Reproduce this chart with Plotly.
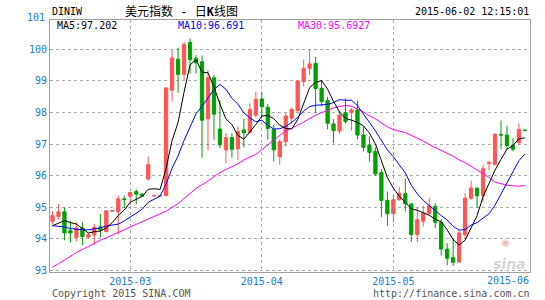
import plotly.graph_objects as go

# ---------------- data ----------------
dates = [
    "2015-02-11", "2015-02-12", "2015-02-13", "2015-02-16", "2015-02-17", "2015-02-18", "2015-02-19",
    "2015-02-20", "2015-02-23", "2015-02-24", "2015-02-25", "2015-02-26", "2015-02-27",
    "2015-03-02", "2015-03-03", "2015-03-04", "2015-03-05", "2015-03-06", "2015-03-09", "2015-03-10",
    "2015-03-11", "2015-03-12", "2015-03-13", "2015-03-16", "2015-03-17", "2015-03-18", "2015-03-19",
    "2015-03-20", "2015-03-23", "2015-03-24", "2015-03-25", "2015-03-26", "2015-03-27", "2015-03-30",
    "2015-03-31",
    "2015-04-01", "2015-04-02", "2015-04-03", "2015-04-06", "2015-04-07", "2015-04-08", "2015-04-09",
    "2015-04-10", "2015-04-13", "2015-04-14", "2015-04-15", "2015-04-16", "2015-04-17", "2015-04-20",
    "2015-04-21", "2015-04-22", "2015-04-23", "2015-04-24", "2015-04-27", "2015-04-28", "2015-04-29",
    "2015-04-30",
    "2015-05-01", "2015-05-04", "2015-05-05", "2015-05-06", "2015-05-07", "2015-05-08", "2015-05-11",
    "2015-05-12", "2015-05-13", "2015-05-14", "2015-05-15", "2015-05-18", "2015-05-19", "2015-05-20",
    "2015-05-21", "2015-05-22", "2015-05-25", "2015-05-26", "2015-05-27", "2015-05-28", "2015-05-29",
    "2015-06-01", "2015-06-02",
]

open_ = [
    94.56, 94.71, 94.86, 94.26, 94.05, 94.35, 94.06, 94.13, 94.38, 94.23, 94.88, 94.86, 95.27,
    95.35, 95.50, 95.42, 95.90, 95.36, 95.36, 95.37, 98.71, 99.69, 99.21, 100.22, 99.72, 99.61,
    97.80, 99.10, 97.48, 96.82, 97.21, 96.85, 97.45, 97.37, 97.92,
    98.43, 98.17, 97.47, 96.60, 97.08, 97.82, 98.06, 98.98, 99.40, 99.56, 98.77, 98.38, 97.64,
    97.42, 98.00, 98.00, 98.09, 97.29, 96.97, 96.77, 96.10, 95.22,
    94.80, 95.24, 95.43, 95.11, 94.14, 94.56, 94.80, 95.03, 94.53, 93.68, 93.41, 93.27, 94.13,
    95.29, 95.61, 95.37, 96.39, 96.35, 97.31, 97.29, 96.96,
    97.05, 97.45,
]
high = [
    94.87, 95.11, 95.00, 94.56, 94.53, 94.53, 94.19, 94.48, 94.79, 94.89, 94.90, 95.37, 95.37,
    95.50, 95.57, 95.45, 96.61, 95.38, 95.38, 98.80, 99.98, 100.05, 100.24, 100.35, 99.82, 99.81,
    99.35, 99.19, 98.40, 97.35, 97.35, 97.56, 97.80, 98.29, 98.66,
    98.66, 98.27, 97.61, 97.16, 97.98, 98.17, 99.01, 99.68, 100.00, 99.77, 99.03, 98.50, 97.79,
    98.06, 98.45, 98.14, 98.38, 97.55, 97.25, 96.90, 96.21, 95.50,
    95.40, 95.64, 95.92, 95.11, 95.00, 95.05, 95.30, 95.13, 94.63, 93.87, 94.00, 94.29, 95.45,
    95.84, 95.64, 96.35, 96.48, 97.35, 97.75, 97.58, 97.19,
    97.66, 97.45,
]
low = [
    94.45, 94.61, 93.96, 93.89, 93.93, 93.80, 94.01, 93.82, 94.05, 94.23, 94.88, 94.14, 94.98,
    95.08, 95.10, 95.33, 95.85, 95.36, 95.36, 95.37, 98.35, 98.63, 99.03, 99.24, 99.24, 96.57,
    96.80, 97.14, 96.87, 96.40, 96.57, 96.50, 96.90, 97.35, 97.85,
    97.85, 97.14, 96.45, 96.35, 96.92, 97.66, 98.03, 98.82, 99.19, 97.98, 98.19, 97.47, 97.03,
    97.33, 97.66, 97.43, 97.15, 96.77, 96.45, 96.00, 94.70, 94.42,
    94.53, 95.22, 94.87, 93.90, 93.90, 94.40, 94.77, 94.35, 93.47, 93.16, 93.14, 93.27, 93.99,
    95.24, 94.98, 95.16, 96.17, 96.35, 96.84, 96.84, 96.77,
    96.98, 97.43,
]
close = [
    94.74, 94.86, 94.19, 94.19, 94.35, 94.08, 94.14, 94.37, 94.29, 94.89, 94.90, 95.27, 95.25,
    95.47, 95.42, 95.35, 96.35, 95.37, 95.37, 98.78, 99.73, 99.21, 100.16, 99.68, 99.58, 97.76,
    99.10, 97.95, 96.98, 97.21, 96.84, 97.40, 97.36, 98.10, 98.42,
    98.19, 97.50, 96.82, 97.08, 97.89, 98.10, 99.00, 99.40, 99.54, 98.76, 98.35, 97.66, 97.43,
    97.92, 97.72, 98.08, 97.29, 96.90, 96.74, 96.06, 95.22, 94.80,
    95.24, 95.45, 95.11, 94.14, 94.61, 94.82, 95.05, 94.53, 93.68, 93.39, 93.26, 94.19, 95.29,
    95.61, 95.37, 96.22, 96.41, 97.31, 97.29, 96.96, 96.84,
    97.47, 97.43,
]

ma5 = [
    94.42, 94.50, 94.58, 94.52, 94.47, 94.33, 94.19, 94.23, 94.25, 94.35, 94.52, 94.74, 94.92,
    95.16, 95.26, 95.35, 95.57, 95.59, 95.57, 96.24, 97.12, 97.69, 98.65, 99.51, 99.67, 99.28,
    99.26, 98.81, 98.27, 97.80, 97.62, 97.28, 97.16, 97.38, 97.62,
    97.89, 97.91, 97.81, 97.60, 97.50, 97.48, 97.78, 98.29, 98.79, 98.96, 99.01, 98.74, 98.35,
    98.02, 97.82, 97.76, 97.69, 97.58, 97.35, 97.01, 96.44, 95.94,
    95.61, 95.35, 95.16, 94.95, 94.91, 94.83, 94.75, 94.63, 94.54, 94.29, 93.98, 93.81, 93.96,
    94.35, 94.74, 95.34, 95.78, 96.18, 96.52, 96.84, 96.96,
    97.17, 97.20,
]
ma10 = [
    94.42, 94.41, 94.38, 94.33, 94.30, 94.29, 94.29, 94.31, 94.35, 94.41, 94.43, 94.47, 94.57,
    94.70, 94.81, 94.94, 95.16, 95.26, 95.36, 95.75, 96.24, 96.63, 97.12, 97.54, 97.96, 98.20,
    98.47, 98.73, 98.89, 98.74, 98.45, 98.27, 97.99, 97.83, 97.71,
    97.76, 97.60, 97.48, 97.49, 97.56, 97.69, 97.85, 98.05, 98.19, 98.23, 98.24, 98.26, 98.32,
    98.41, 98.39, 98.39, 98.22, 97.97, 97.69, 97.42, 97.10, 96.82,
    96.60, 96.35, 96.09, 95.70, 95.43, 95.22, 95.05, 94.90, 94.74, 94.60, 94.40, 94.28, 94.30,
    94.44, 94.52, 94.66, 94.80, 95.07, 95.43, 95.79, 96.15,
    96.48, 96.69,
]
ma30 = [
    93.10, 93.22, 93.34, 93.46, 93.57, 93.67, 93.77, 93.87, 93.96, 94.04, 94.12, 94.19, 94.29,
    94.38, 94.46, 94.55, 94.62, 94.70, 94.80, 94.88, 95.00, 95.12, 95.28, 95.45, 95.60, 95.72,
    95.83, 95.97, 96.10, 96.20, 96.28, 96.38, 96.50, 96.58, 96.68,
    96.82, 96.98, 97.13, 97.28, 97.42, 97.50, 97.60, 97.70, 97.82, 97.92, 98.00, 98.06, 98.15,
    98.20, 98.23, 98.20, 98.12, 98.02, 97.90, 97.80, 97.67, 97.55,
    97.46, 97.42, 97.37, 97.28, 97.20, 97.10, 96.99, 96.90, 96.80, 96.72, 96.62, 96.50, 96.42,
    96.30, 96.18, 96.08, 95.95, 95.80, 95.74, 95.70, 95.68,
    95.67, 95.69,
]

month_ticks = ["2015-03-02", "2015-04-01", "2015-05-01"]
month_labels = ["2015-03", "2015-04", "2015-05"]
last_month_label = "2015-06"
y_ticks = [93, 94, 95, 96, 97, 98, 99, 100]
y_top_label = 101
ma_labels = ["MA5:97.202", "MA10:96.691", "MA30:95.6927"]

# ---------------- style ----------------
RED = "#ff5555"
GREEN = "#00a000"
BLUE_TXT = "#1a7ccc"
GRID = "#aaaaaa"
BORDER = "#a0a0a0"
MONO = "DejaVu Sans Mono, Liberation Mono, monospace"
Y_RANGE = [92.955, 100.93]

fig = go.Figure()
fig.add_trace(go.Candlestick(
    x=dates, open=open_, high=high, low=low, close=close,
    increasing=dict(line=dict(color=RED, width=1), fillcolor=RED),
    decreasing=dict(line=dict(color=GREEN, width=1), fillcolor=GREEN),
    whiskerwidth=0, showlegend=False, hoverinfo="skip",
))
fig.add_trace(go.Scatter(x=dates, y=ma30, mode="lines", line=dict(color="#ff00ff", width=1),
                         showlegend=False, hoverinfo="skip"))
fig.add_trace(go.Scatter(x=dates, y=ma10, mode="lines", line=dict(color="#0000ff", width=1),
                         showlegend=False, hoverinfo="skip"))
fig.add_trace(go.Scatter(x=dates, y=ma5, mode="lines", line=dict(color="#000000", width=1),
                         showlegend=False, hoverinfo="skip"))

fig.update_layout(
    width=545, height=300,
    margin=dict(l=50, r=15, t=20, b=28, pad=0),
    paper_bgcolor="white", plot_bgcolor="white",
    showlegend=False, boxgap=0.22,
    font=dict(family=MONO, size=10, color="#000"),
    xaxis=dict(
        type="category", range=[-0.42, 79.85], rangeslider=dict(visible=False),
        tickmode="array", tickvals=month_ticks, ticktext=month_labels,
        showgrid=True, gridcolor=GRID, griddash="dot", gridwidth=1,
        showline=True, mirror=True, linecolor=BORDER, linewidth=1,
        ticks="", tickfont=dict(family=MONO, size=10, color=BLUE_TXT),
        zeroline=False, fixedrange=True,
    ),
    yaxis=dict(
        range=Y_RANGE, tickmode="array", tickvals=y_ticks,
        ticktext=[str(v) for v in y_ticks],
        showgrid=True, gridcolor=GRID, griddash="dot", gridwidth=1,
        showline=True, mirror=True, linecolor=BORDER, linewidth=1,
        ticks="", tickfont=dict(family=MONO, size=10, color=BLUE_TXT),
        zeroline=False, fixedrange=True,
    ),
)

ann = []
# top y label (101) sits just above the plot box
y101 = (y_top_label - Y_RANGE[0]) / (Y_RANGE[1] - Y_RANGE[0])
ann.append(dict(xref="paper", yref="paper", x=0, y=y101, text=str(y_top_label),
                xanchor="right", yanchor="middle", xshift=-3, showarrow=False,
                font=dict(family=MONO, size=10, color=BLUE_TXT)))
# last month label at right edge
ann.append(dict(xref="paper", yref="paper", x=1.003, y=-0.032, text=last_month_label,
                xanchor="right", yanchor="middle", showarrow=False,
                font=dict(family=MONO, size=10, color=BLUE_TXT)))
# header
ann.append(dict(xref="paper", yref="paper", x=0, y=1.034, text="DINIW",
                xanchor="left", yanchor="middle", showarrow=False,
                font=dict(family=MONO, size=10, color="#000")))
ann.append(dict(xref="paper", yref="paper", x=0.273, y=1.034, text="美元指数 - 日<b>K</b>线图",
                xanchor="center", yanchor="middle", showarrow=False,
                font=dict(family="DejaVu Sans Mono, Noto Sans CJK SC", size=12, color="#000")))
ann.append(dict(xref="paper", yref="paper", x=1.003, y=1.034, text="2015-06-02 12:15:01",
                xanchor="right", yanchor="middle", showarrow=False,
                font=dict(family=MONO, size=10, color="#000")))
# MA legend row
for xp, txt, col in zip([0.0104, 0.2615, 0.5135], ma_labels, ["#000000", "#0000ff", "#ff00ff"]):
    ann.append(dict(xref="paper", yref="paper", x=xp, y=0.980, text=txt,
                    xanchor="left", yanchor="middle", showarrow=False,
                    font=dict(family=MONO, size=10, color=col)))
# footer
ann.append(dict(xref="paper", yref="paper", x=0, y=-0.087, text="Copyright 2015 SINA.COM",
                xanchor="left", yanchor="middle", showarrow=False,
                font=dict(family=MONO, size=10, color="#555")))
ann.append(dict(xref="paper", yref="paper", x=1.004, y=-0.087, text="http://finance.sina.com.cn",
                xanchor="right", yanchor="middle", showarrow=False,
                font=dict(family=MONO, size=10, color="#555")))
# watermark (eye logo + "sina")
ann.append(dict(xref="paper", yref="paper", x=0.948, y=0.118, text="◉",
                xanchor="center", yanchor="middle", showarrow=False,
                font=dict(family="DejaVu Sans", size=10, color="#f2b8b8")))
ann.append(dict(xref="paper", yref="paper", x=0.995, y=0.030, text="<b><i>sina</i></b>",
                xanchor="right", yanchor="middle", showarrow=False,
                font=dict(family="DejaVu Sans", size=14, color="#d6d6d6")))
fig.update_layout(annotations=ann)

fig.write_html("out.html")
